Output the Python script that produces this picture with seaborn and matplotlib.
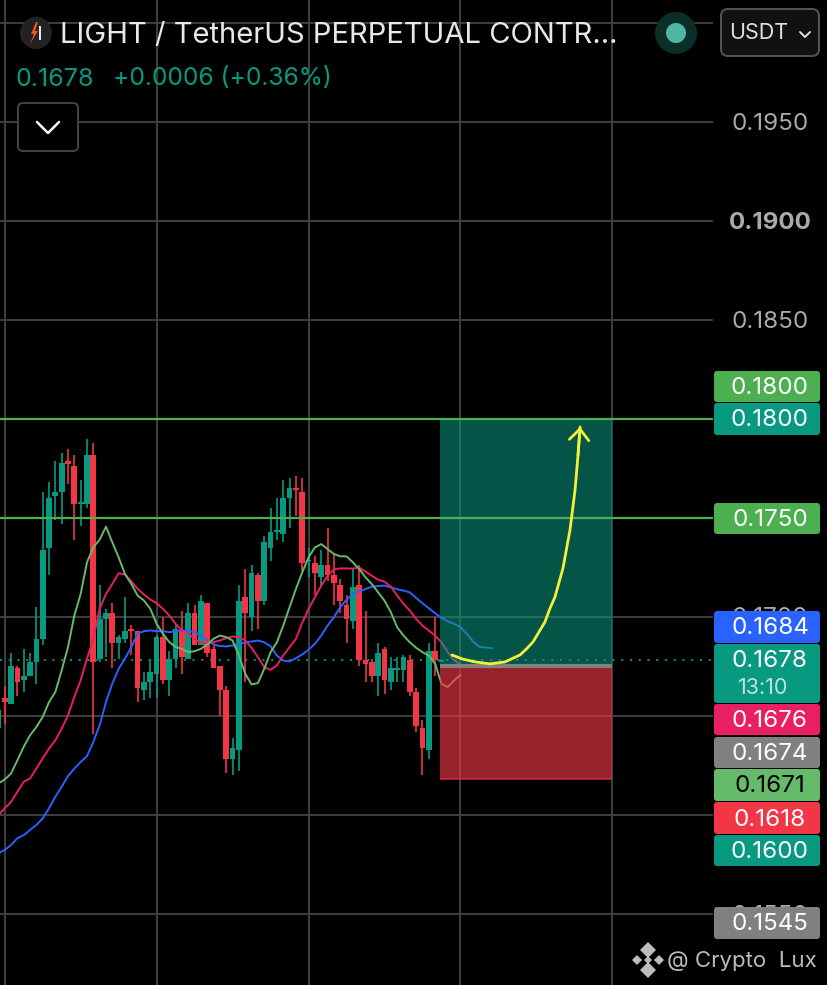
import numpy as np
import pandas as pd
import seaborn as sns
import matplotlib.pyplot as plt
from matplotlib.patches import Circle, FancyBboxPatch, Polygon, Rectangle

# -------------------- Candles --------------------
opens = [.1644, .1659, .1656, .1674, .1668, .1670, .1677, .1689, .1735, .1761,
         .1763, .1779, .1776, .1757, .1757, .1782, .1679, .1699, .1702, .1687,
         .1689, .1694, .1693, .1663, .1667, .1671, .1690, .1668, .1679, .1693,
         .1679, .1702, .1686, .1707, .1684, .1675, .1663, .1628, .1633, .1710,
         .1700, .1721, .1708, .1735, .1743, .1742, .1760, .1765, .1763, .1728,
         .1727, .1720, .1726, .1721, .1716, .1706, .1698, .1716, .1678, .1677,
         .1670, .1684, .1667, .1673, .1673, .1678, .1662, .1644, .1633, .1683, .1677]
highs = [.1656, .1665, .1682, .1675, .1684, .1682, .1705, .1763, .1768, .1779,
         .1783, .1785, .1782, .1769, .1790, .1788, .1716, .1704, .1707, .1691,
         .1710, .1696, .1693, .1672, .1679, .1691, .1700, .1683, .1696, .1703,
         .1707, .1706, .1711, .1707, .1686, .1675, .1665, .1639, .1716, .1724,
         .1726, .1722, .1741, .1755, .1760, .1769, .1770, .1771, .1770, .1735,
         .1731, .1734, .1745, .1732, .1719, .1711, .1724, .1726, .1703, .1679,
         .1687, .1685, .1680, .1680, .1681, .1681, .1664, .1648, .1687, .1700, .1679]
lows = [.1636, .1646, .1656, .1660, .1662, .1670, .1666, .1686, .1721, .1749,
        .1747, .1767, .1739, .1746, .1755, .1641, .1677, .1680, .1674, .1679,
        .1687, .1681, .1657, .1658, .1659, .1659, .1666, .1660, .1674, .1671,
        .1679, .1686, .1686, .1680, .1674, .1650, .1621, .1620, .1622, .1667,
        .1693, .1694, .1706, .1728, .1739, .1738, .1745, .1751, .1723, .1720,
        .1711, .1715, .1718, .1706, .1702, .1687, .1694, .1675, .1667, .1667,
        .1660, .1661, .1663, .1667, .1667, .1660, .1642, .1620, .1628, .1670, .1677]
closes = [.1653, .1657, .1675, .1667, .1670, .1677, .1689, .1734, .1760, .1763,
          .1778, .1777, .1757, .1758, .1782, .1677, .1699, .1702, .1687, .1690,
          .1693, .1693, .1664, .1667, .1672, .1690, .1668, .1679, .1694, .1680,
          .1702, .1686, .1708, .1682, .1674, .1663, .1628, .1634, .1708, .1702,
          .1722, .1708, .1738, .1743, .1744, .1760, .1765, .1764, .1727, .1729,
          .1722, .1726, .1721, .1717, .1708, .1699, .1715, .1678, .1676, .1670,
          .1682, .1668, .1674, .1674, .1680, .1662, .1645, .1634, .1683, .1678, .1678]

# -------------------- Moving averages --------------------
ma_green = [.16159, .16179, .16209, .16276, .16344, .16402, .16444, .16495, .1657, .16621,
            .1673, .16848, .17007, .17116, .17276, .17352, .1739, .17456, .17377, .17301,
            .17217, .17167, .17108, .17083, .17041, .16965, .16915, .16873, .16848, .16839,
            .16822, .16827, .16839, .16861, .1689, .16906, .16898,
            .16881, .16805, .16713, .16659, .16666, .16738, .16822, .16872, .16956, .17049,
            .17141, .17225, .17301, .17351, .17368, .17343, .17318, .17306, .17306, .17276,
            .17242, .172, .17166, .17124, .17082, .17024, .16948, .16906, .16872, .16844,
            .16822, .16805, .16763, .16662, .16646, .16679, .16708]
ma_red = [.15999, .16033, .16066, .16117, .16167, .16184, .16234, .16285, .16335, .16377,
          .16436, .16503, .16596, .1668, .16789, .1689, .17041, .17116, .17167, .17221,
          .17214, .1718, .17142, .17113, .17088, .17069, .17041, .17007, .16965, .16932,
          .16915, .1689, .16868, .16868, .16873, .16881, .16893,
          .16901, .16898, .16881, .16844, .16797, .16746, .16733, .16755, .16805, .16847,
          .16889, .1697, .1704, .17099, .17158, .17208, .1724, .17245, .17245, .17244,
          .1725, .17229, .17208, .17188, .17178, .17153, .17108, .17066, .17032, .1699,
          .16956, .16931, .16906, .16872, .16822, .1678, .1676]
ma_blue = [.15806, .15823, .15848, .15882, .15898, .15924, .15949, .15982, .16033, .16092,
           .16142, .16196, .16234, .16268, .16297, .16369, .16453, .1657, .16663, .16738,
           .16789, .16848, .16915, .16928, .16932, .16928, .16928, .16923, .16928, .16932,
           .16928, .16923, .16906, .16881, .16861, .16853, .16851,
           .16856, .16861, .16872, .16876, .16881, .16872, .16852, .16805, .1678, .16775,
           .16792, .1681, .16834, .16864, .16906, .16956, .16998, .17049, .17087, .17116,
           .17129, .17141, .17153, .17156, .17158, .1715, .1714, .17133, .17124, .17096,
           .17069, .17044, .17019, .16995, .16978, .16965, .16948, .16914, .16876, .16849,
           .16846, .16842]

# -------------------- Hand drawn forecast curve --------------------
curve_idx = [71.66, 73.24, 75.3, 77.67, 80.04, 82.41, 83.5, 84.46, 85.4, 86.35, 87.1, 87.93, 89.2, 90.3, 91.1, 91.57, 91.9]
curve_price = [.16808, .16788, .16773, .16763, .16773, .16808, .16841, .16874, .16924, .16975, .1704, .17101, .17247,
               .17439, .17641, .17818, .1796]

# -------------------- Levels and labels --------------------
grid_prices = [.2000, .1950, .1900, .1850, .1800, .1750, .1700, .1650, .1600, .1550]
axis_prices = ['0.1950', '0.1900', '0.1850', '0.1700', '0.1550']
time_grid = [1, 25, 49, 73, 97]
resistance_levels = [.1800, .1750]
last_price = .1678
take_profit = .1800
entry = .1674
stop_loss = .1618
box_start, box_end = 69.77, 97.0

tag_text = ['0.1800', '0.1800', '0.1750', '0.1684', '0.1678', '0.1676', '0.1674', '0.1671', '0.1618', '0.1600', '0.1545']
tag_top = [371, 403, 503, 611, 644, 704, 737, 769, 802, 835, 907]
tag_bottom = [402, 435, 534, 643, 703, 735, 768, 801, 834, 866, 939]
tag_color = ['#4CAF50', '#089981', '#4CAF50', '#2962FF', '#089981', '#E91E63', '#808080', '#66BB6A', '#F23645', '#089981', '#808080']
tag_ink = ['white'] * 7 + ['black'] + ['white'] * 3

# -------------------- Theme --------------------
sns.set_theme(style='dark', rc={'axes.facecolor': 'black', 'figure.facecolor': 'black'})
plt.rcParams['font.family'] = ['Inter', 'DejaVu Sans']

TEAL = '#089981'
RED = '#F23645'
GRID = '#3f3f3f'

fig = plt.figure(figsize=(8.28, 9.85), dpi=100)
ax = fig.add_axes([0, 0, 1, 1])
ax.set_xlim(0.2575, 131.06)
ax.set_ylim(.15141, .20116)
ax.axis('off')

# -------------------- Grid --------------------
ax.hlines(grid_prices, 0.2575, 112.9, color=GRID, lw=1.4, zorder=1)
ax.vlines(time_grid, .15141, .20116, color=GRID, lw=1.4, zorder=1)

# -------------------- Candlesticks --------------------
candles = pd.DataFrame({'open': opens, 'high': highs, 'low': lows, 'close': closes})
candles['idx'] = np.arange(len(candles))
candles['color'] = np.where(candles['close'] >= candles['open'], TEAL, RED)
ax.vlines(candles['idx'], candles['low'], candles['high'], color=candles['color'], lw=1.2, zorder=3)
ax.bar(candles['idx'], (candles['close'] - candles['open']).abs().clip(lower=.00007),
       bottom=candles[['open', 'close']].min(axis=1), width=.9, color=candles['color'],
       edgecolor='none', linewidth=0, zorder=3)

# -------------------- Moving averages --------------------
for values, color in [(ma_blue, '#2962FF'), (ma_red, '#E91E63'), (ma_green, '#66BB6A')]:
    line = pd.DataFrame({'idx': np.arange(len(values)), 'price': values})
    sns.lineplot(data=line, x='idx', y='price', color=color, lw=1.4, ax=ax, zorder=4, errorbar=None)
ax.axis('off')

# -------------------- Levels --------------------
ax.hlines(resistance_levels, 0.2575, 112.9, color='#4CAF50', lw=1.6, zorder=6)
ax.hlines(last_price, 0.2575, 112.9, color=TEAL, lw=1.4, linestyles=(0, (1, 3.5)), zorder=2)

# -------------------- Long position box --------------------
ax.add_patch(Rectangle((box_start, entry), box_end - box_start, take_profit - entry,
                       facecolor=TEAL, alpha=.56, lw=0, zorder=5))
ax.add_patch(Rectangle((box_start, stop_loss), box_end - box_start, entry - stop_loss,
                       facecolor=RED, alpha=.63, lw=0, zorder=5))
ax.hlines(entry + .0001, box_start, box_end, color='#808080', lw=3, zorder=5)
ax.hlines(stop_loss, box_start, box_end, color=RED, lw=1.2, alpha=.7, zorder=5)

# -------------------- Forecast arrow --------------------
ax.plot(curve_idx, curve_price, color='#F5EE3C', lw=2, zorder=7, solid_capstyle='round')
ax.annotate('', xy=(curve_idx[-1], curve_price[-1]), xytext=(curve_idx[-2], curve_price[-2]),
            arrowprops=dict(arrowstyle='->,head_length=0.4,head_width=0.35', color='#F5EE3C', lw=2,
                            mutation_scale=20, shrinkA=0, shrinkB=0), zorder=7)

# -------------------- Interface layer in pixels --------------------
ui = fig.add_axes([0, 0, 1, 1], facecolor='none')
ui.set_xlim(0, 828)
ui.set_ylim(985, 0)
ui.axis('off')


def y_of(price):
    return 122 + (.195 - price) * 19800


for label in axis_prices:
    ui.text(770, y_of(float(label)) + 1.5, label, color='#AAAAAA', fontsize=17.4, ha='center', va='center',
            fontweight='bold' if label == '0.1900' else 'normal', zorder=1)

for text, top, bottom, color, ink in zip(tag_text, tag_top, tag_bottom, tag_color, tag_ink):
    ui.add_patch(FancyBboxPatch((714, top), 106, bottom - top, boxstyle='round,pad=0,rounding_size=3',
                                facecolor=color, edgecolor='none', zorder=2))
    middle = (top + bottom) / 2 + 1.5
    if text == '0.1678':
        middle = 661
        ui.text(763, 688, '13:10', color='#BFE3DC', fontsize=15.5, ha='center', va='center', zorder=3)
    ui.text(770, middle, text, color=ink, fontsize=17.4, ha='center', va='center', zorder=3)

# Header
ui.add_patch(Circle((36, 33), 16, facecolor='#222222', edgecolor='none'))
ui.add_patch(Polygon([(36, 22), (31, 34), (34, 34), (30, 44), (38, 31), (35, 31), (38, 22)],
                     facecolor='#F2501E', edgecolor='none'))
ui.add_patch(Rectangle((39, 26), 2.5, 14, facecolor='#E8E8E8', edgecolor='none'))
ui.text(60, 35, 'LIGHT / TetherUS PERPETUAL CONTR...', color='#E8E8E8', fontsize=21, ha='left', va='center')
ui.text(16, 79, '0.1678', color=TEAL, fontsize=18, ha='left', va='center')
ui.text(113, 79, '+0.0006 (+0.36%)', color=TEAL, fontsize=17.7, ha='left', va='center')
ui.add_patch(Circle((676, 33), 21, facecolor='#0B2E29', edgecolor='none'))
ui.add_patch(Circle((676, 33), 10, facecolor='#4DB6A4', edgecolor='none'))

ui.add_patch(FancyBboxPatch((721, 9), 98, 47, boxstyle='round,pad=0,rounding_size=7',
                            facecolor='#111111', edgecolor='#555555', lw=1.4))
ui.text(729, 33, 'USDT', color='#E0E0E0', fontsize=15.5, ha='left', va='center')
ui.plot([800, 805, 810], [32, 37, 32], color='#E0E0E0', lw=1.4)

ui.add_patch(FancyBboxPatch((18, 103), 60, 48, boxstyle='round,pad=0,rounding_size=5',
                            facecolor='black', edgecolor='#444444', lw=1.4))
ui.plot([37, 48, 59], [122, 133, 122], color='white', lw=1.8)

# Watermark
for wx, wy, size in [(637, 960, 5), (659, 960, 5), (648, 950, 8), (648, 970, 8), (648, 960, 4)]:
    ui.plot(wx, wy, marker='D', color='#BBBBBB', markersize=size, mew=0)
ui.text(667, 961, '@ Crypto  Lux', color='#BBBBBB', fontsize=16, ha='left', va='center')

plt.savefig('out.png', dpi=100, facecolor='black')
